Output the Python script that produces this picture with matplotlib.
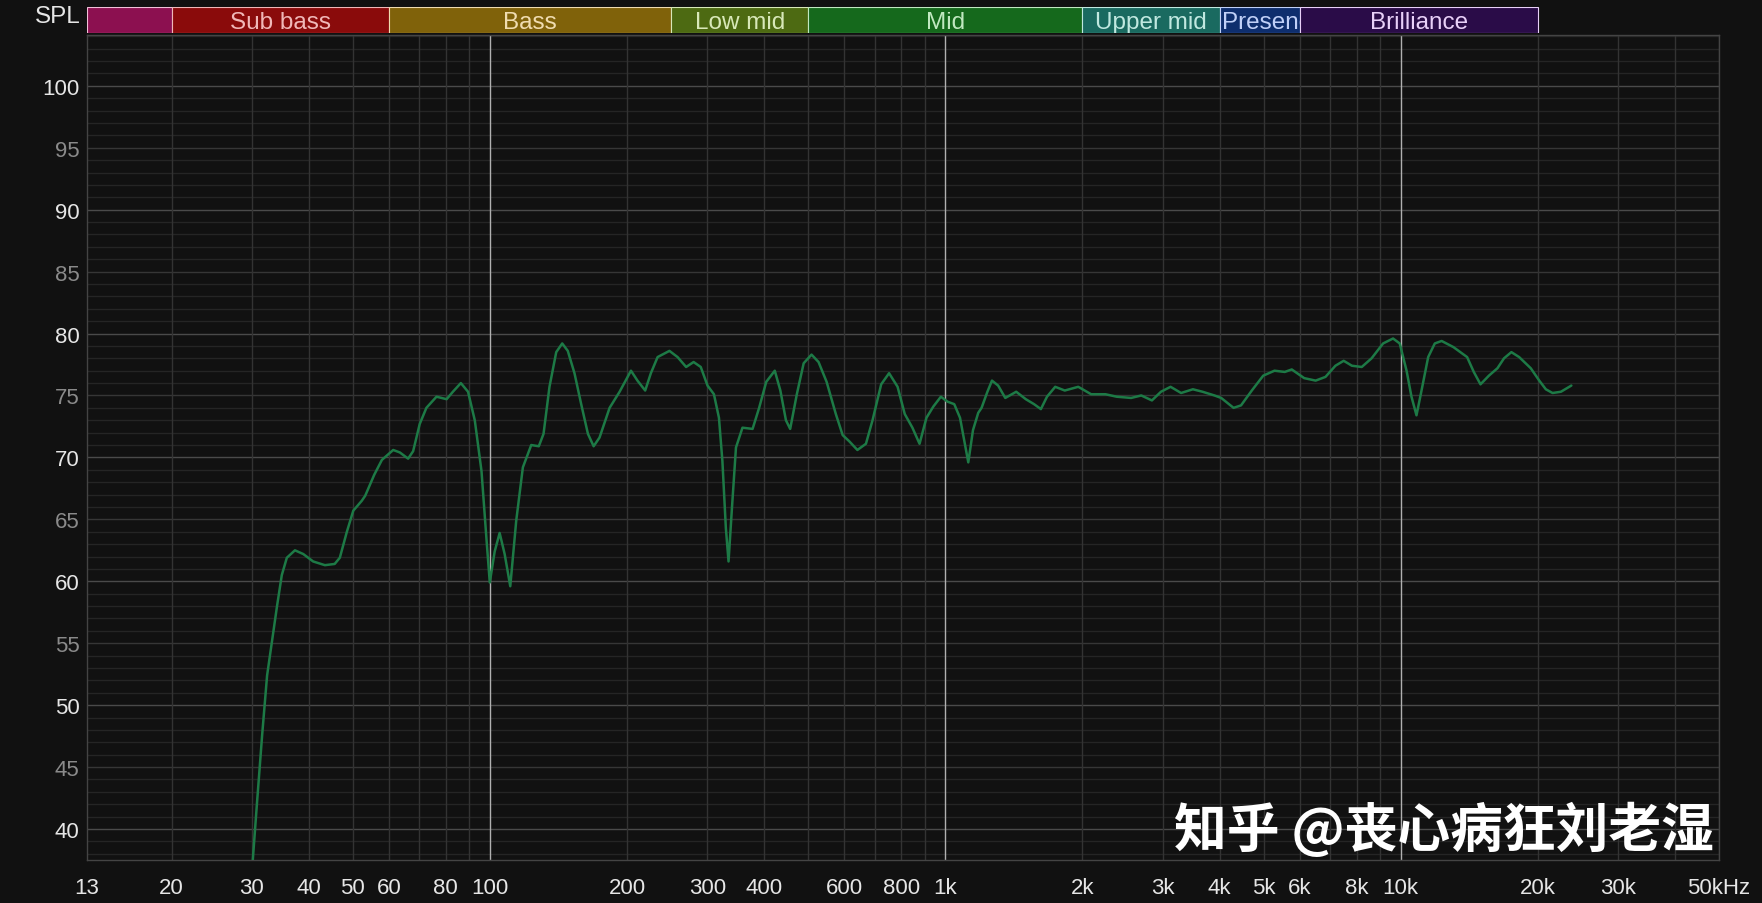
import matplotlib
matplotlib.use('Agg')
import matplotlib.pyplot as plt
from matplotlib.patches import Rectangle

freq_hz = [30.0, 30.8, 31.6, 32.4, 33.2, 34.1, 34.9, 35.8, 37.3, 38.9,
           40.9, 43.4, 45.6, 46.8, 48.5, 50.1, 52.3, 53.2, 55.7, 57.9,
           61.3, 63.4, 66.1, 67.8, 70.1, 72.5, 76.3, 80.3, 82.9, 86.3,
           89.5, 92.6, 95.8, 98.2, 99.9, 102.4, 105.0, 107.7, 110.8, 114.2,
           118.1, 123.2, 128.0, 131.1, 135.1, 139.8, 144.1, 148.2, 153.3, 158.6,
           164.1, 168.9, 174.0, 183.1, 192.6, 204.0, 210.8, 219.2, 225.6, 233.4,
           247.8, 258.2, 269.6, 280.0, 290.3, 300.4, 310.3, 318.3, 323.9, 329.6,
           334.1, 339.9, 346.9, 358.5, 377.3, 390.0, 404.3, 422.1, 434.2, 446.6,
           456.3, 471.9, 488.5, 508.3, 526.7, 548.6, 574.8, 595.0, 615.2, 641.0,
           669.3, 692.0, 722.9, 752.4, 785.4, 814.5, 846.6, 877.7, 908.9, 940.9,
           977.6, 1011, 1046, 1077, 1123, 1150, 1181, 1201, 1237, 1266,
           1306, 1354, 1431, 1502, 1566, 1621, 1672, 1743, 1829, 1958,
           2090, 2247, 2378, 2558, 2693, 2842, 2975, 3123, 3294, 3496,
           3672, 3900, 4035, 4295, 4460, 4710, 4990, 5282, 5564, 5764,
           6138, 6503, 6836, 7188, 7495, 7814, 8212, 8631, 9148, 9620,
           9950, 10300, 10560, 10830, 11110, 11490, 11880, 12300, 13060, 13990,
           14470, 14970, 15620, 16310, 16860, 17500, 18200, 19300, 20150, 20830,
           21550, 22480, 23700]
spl_db = [36.5, 42.2, 47.6, 52.4, 55.1, 58.1, 60.5, 61.9, 62.5, 62.2,
          61.6, 61.3, 61.4, 61.9, 64.0, 65.7, 66.5, 66.9, 68.6, 69.8,
          70.6, 70.4, 69.9, 70.5, 72.7, 74.0, 74.9, 74.7, 75.3, 76.0,
          75.3, 73.0, 68.9, 63.5, 59.9, 62.4, 63.9, 62.2, 59.6, 64.9,
          69.2, 71.0, 70.9, 71.9, 75.7, 78.5, 79.2, 78.6, 76.8, 74.3,
          71.9, 70.9, 71.6, 74.0, 75.3, 77.0, 76.2, 75.4, 76.8, 78.1,
          78.6, 78.1, 77.3, 77.7, 77.3, 75.8, 75.1, 73.2, 69.7, 64.3,
          61.6, 65.9, 70.8, 72.4, 72.3, 74.0, 76.1, 77.0, 75.4, 73.0,
          72.3, 75.1, 77.6, 78.3, 77.7, 76.1, 73.5, 71.8, 71.3, 70.6,
          71.1, 73.0, 75.9, 76.8, 75.7, 73.5, 72.4, 71.1, 73.2, 74.1,
          74.9, 74.5, 74.3, 73.2, 69.6, 72.2, 73.6, 74.0, 75.3, 76.2,
          75.8, 74.8, 75.3, 74.7, 74.3, 73.9, 74.9, 75.7, 75.4, 75.7,
          75.1, 75.1, 74.9, 74.8, 75.0, 74.6, 75.3, 75.7, 75.2, 75.5,
          75.3, 75.0, 74.8, 74.0, 74.2, 75.4, 76.6, 77.0, 76.9, 77.1,
          76.4, 76.2, 76.5, 77.4, 77.8, 77.4, 77.3, 78.0, 79.2, 79.6,
          79.2, 77.0, 74.9, 73.4, 75.4, 78.1, 79.2, 79.4, 78.9, 78.1,
          76.9, 75.9, 76.6, 77.2, 78.0, 78.5, 78.1, 77.2, 76.2, 75.5,
          75.2, 75.3, 75.8]

# frequency bands shown above the plot
band_names = ['', 'Sub bass', 'Bass', 'Low mid', 'Mid', 'Upper mid', 'Presence', 'Brilliance']
band_edges = [13, 20, 60, 250, 500, 2000, 4000, 6000, 20000]
band_colors = ['#8c1050', '#8a0b0b', '#80620a', '#4d6a12', '#15691c', '#1a6a60', '#0e2e6e', '#2a0c48']
band_text_colors = ['#f0c0d8', '#f0b8b8', '#f0dcb0', '#d8e8b8', '#c0e8c0', '#c0e8e0', '#c0d0f8', '#e8d0f8']

x_ticks = [13, 20, 30, 40, 50, 60, 80, 100, 200, 300, 400, 600, 800, 1000,
           2000, 3000, 4000, 5000, 6000, 8000, 10000, 20000, 30000, 50000]
x_tick_labels = ['13', '20', '30', '40', '50', '60', '80', '100', '200', '300', '400',
                 '600', '800', '1k', '2k', '3k', '4k', '5k', '6k', '8k', '10k',
                 '20k', '30k', '50kHz']
y_ticks = [40, 45, 50, 55, 60, 65, 70, 75, 80, 85, 90, 95, 100]

bg = '#111111'
font = ['Liberation Sans', 'DejaVu Sans']

W, H = 1762, 904
fig = plt.figure(figsize=(W / 100, H / 100), dpi=100, facecolor=bg)
ax = fig.add_axes([86.5 / W, 1 - 861 / H, (1719 - 86.5) / W, (861 - 36) / H])
ax.set_facecolor(bg)
ax.set_xscale('log')
ax.set_xlim(13, 50000)
ax.set_ylim(37.5, 104.1)

# horizontal grid: 1 dB, 5 dB, 10 dB
for v in range(38, 105):
    if v % 10 == 0:
        c = '#4a4a4a'
    elif v % 5 == 0:
        c = '#363636'
    else:
        c = '#252525'
    ax.axhline(v, color=c, lw=1, zorder=1)

# vertical grid at every integer multiple, brighter at decades
for dec in [10, 100, 1000, 10000]:
    for m in range(1, 10):
        f = dec * m
        if f < 20 or f > 50000:
            continue
        if f in (100, 1000, 10000):
            ax.axvline(f, color='#b0b0b0', lw=1, zorder=2)
        else:
            ax.axvline(f, color='#333333', lw=1, zorder=1)

ax.plot(freq_hz, spl_db, color='#1d7a46', lw=1.8, zorder=3,
        solid_joinstyle='round', solid_capstyle='round')

ax.set_xticks(x_ticks)
ax.set_xticklabels(x_tick_labels)
ax.minorticks_off()
ax.set_yticks(y_ticks)
ax.tick_params(axis='x', length=0, pad=12, labelsize=16, colors='#e6e6e6')
ax.tick_params(axis='y', length=0, pad=5, labelsize=16, colors='#e6e6e6')
for lab in ax.get_xticklabels() + ax.get_yticklabels():
    lab.set_family(font)
for lab, v in zip(ax.get_yticklabels(), y_ticks):
    lab.set_color('#e6e6e6' if v % 10 == 0 else '#8a8a8a')
for s in ax.spines.values():
    s.set_color('#444444')
    s.set_linewidth(1)

# band strip
bax = fig.add_axes([86.5 / W, 1 - 33.7 / H, (1719 - 86.5) / W, (33.7 - 7.9) / H])
bax.set_xscale('log')
bax.set_xlim(13, 50000)
bax.set_ylim(0, 1)
bax.axis('off')
for i, name in enumerate(band_names):
    lo, hi = band_edges[i], band_edges[i + 1]
    rect = Rectangle((lo, 0), hi - lo, 1, facecolor=band_colors[i],
                     edgecolor=band_text_colors[i], lw=0.8)
    bax.add_patch(rect)
    if name:
        if name == 'Presence':
            t = bax.text(lo * 1.012, 0.42, name, ha='left', va='center',
                         color=band_text_colors[i], fontsize=17.5, family=font)
        else:
            t = bax.text((lo * hi) ** 0.5, 0.42, name, ha='center', va='center',
                         color=band_text_colors[i], fontsize=17.5, family=font)
        t.set_clip_path(rect)
        t.set_clip_on(True)

fig.text(81 / W, 1 - 17 / H, 'SPL', ha='right', va='center', color='#e6e6e6',
         fontsize=17.5, family=font)

fig.text(1714 / W, 1 - 830 / H, '知乎 @丧心病狂刘老湿', ha='right', va='center',
         color='white', fontsize=38, fontweight='bold',
         family=['Noto Sans CJK SC', 'DejaVu Sans'], zorder=10)

fig.savefig('out.png', dpi=100, facecolor=bg)
